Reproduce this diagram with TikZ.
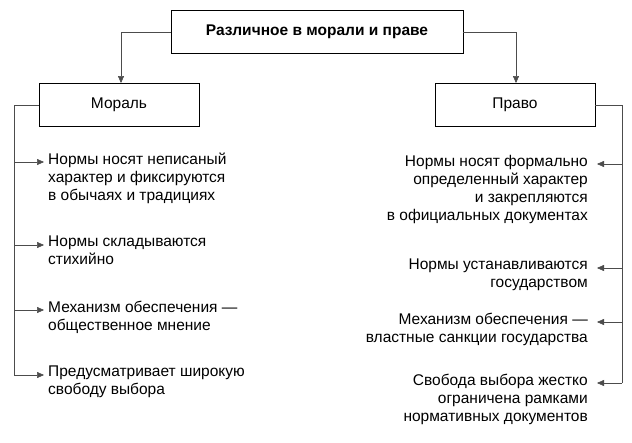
\documentclass[tikz,border=0pt]{standalone}
\usepackage{fontspec}
\setmainfont{Liberation Sans}
\usetikzlibrary{arrows.meta}
\begin{document}
\begin{tikzpicture}[x=1pt,y=-1pt,
  box/.style={draw,line width=0.9pt,minimum height=43pt,inner sep=0pt,font=\fontsize{15.5}{18}\selectfont},
  ln/.style={line width=0.5pt,gray!60!black},
  arr/.style={ln,-{Triangle[length=7pt,width=6pt]}},
  txt/.style={inner sep=0pt,font=\fontsize{15.5}{18}\selectfont}]
\useasboundingbox (0,0) rectangle (632,442);
\node[box,minimum width=292pt,font=\bfseries\fontsize{15.5}{18}\selectfont] (top) at (317,32) {Различное в морали и праве};
\node[box,minimum width=160pt] (mor) at (119,105) {Мораль};
\node[box,minimum width=160pt] (pra) at (515,105) {Право};
\draw[arr] (top.west) -| (mor.north -| 121,0);
\draw[arr] (top.east) -| (pra.north -| 516,0);
\coordinate (lb) at (14,375);
\coordinate (rb) at (622,383);
\draw[ln] (mor.west) -| (lb);
\draw[ln] (pra.east) -| (rb);
% left texts
\node[txt,align=left,anchor=north west] (l1) at (48,153) {Нормы носят неписаный\\характер и фиксируются\\в обычаях и традициях};
\node[txt,align=left,anchor=north west] (l2) at (48,236) {Нормы складываются\\стихийно};
\node[txt,align=left,anchor=north west] (l3) at (48,301) {Механизм обеспечения —\\общественное мнение};
\node[txt,align=left,anchor=north west] (l4) at (48,366) {Предусматривает широкую\\свободу выбора};
\foreach \n/\y in {l1/162,l2/245,l3/310,l4/375}
  \draw[arr] (14,\y) -- (44,\y);
% right texts
\node[txt,align=right,anchor=north east] (r1) at (588,155) {Нормы носят формально\\определенный характер\\и закрепляются\\в официальных документах};
\node[txt,align=right,anchor=north east] (r2) at (588,259) {Нормы устанавливаются\\государством};
\node[txt,align=right,anchor=north east] (r3) at (588,313) {Механизм обеспечения —\\властные санкции государства};
\node[txt,align=right,anchor=north east] (r4) at (588,374) {Свобода выбора жестко\\ограничена рамками\\нормативных документов};
\foreach \n/\y in {r1/164,r2/268,r3/322,r4/383}
  \draw[arr] (622,\y) -- (597,\y);
\end{tikzpicture}
\end{document}
